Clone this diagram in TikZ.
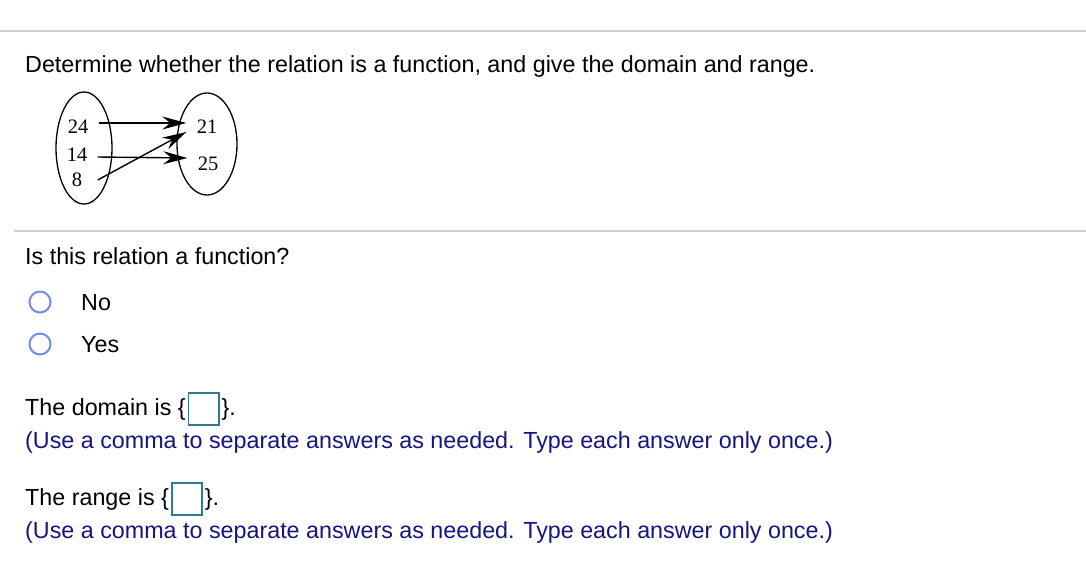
\documentclass[tikz,border=0pt]{standalone}
\usepackage{fontspec}
\setmainfont{Liberation Sans}
\newfontfamily\serifnum{Liberation Serif}
\usetikzlibrary{arrows.meta,shapes.geometric,positioning}

\definecolor{rulegray}{RGB}{204,206,222}
\definecolor{hintblue}{RGB}{20,20,130}
\definecolor{radioblue}{RGB}{112,140,230}
\definecolor{boxteal}{RGB}{48,120,150}

\begin{document}
\begin{tikzpicture}[x=1pt, y=-1pt, every node/.style={inner sep=0pt},
        txt/.style={anchor=base west, font=\fontsize{23.3}{27}\selectfont},
        hint/.style={txt, text=hintblue},
        num/.style={font=\serifnum\fontsize{20.5}{24}\selectfont, minimum width=41pt},
        setoval/.style={ellipse, draw, line width=1.3pt},
        maparrow/.style={-{Stealth[length=24pt, width=13pt, inset=8pt]}, line width=1.4pt},
        radio/.style={circle, draw=radioblue, line width=2pt, minimum size=21pt},
        ansbox/.style={draw=boxteal, line width=1.5pt, minimum width=30pt, minimum height=32pt}]
        \useasboundingbox (0,0) rectangle (1086,584);

        % Rules
        \draw[rulegray, line width=2pt] (0,31) -- (1086,31);
        \draw[rulegray, line width=2pt] (14,231) -- (1086,231);

        % Question
        \node[txt] (question) at (25,72) {Determine whether the relation is a function, and give the domain and range.};

        % The two sets
        \node[setoval, minimum width=56pt, minimum height=112pt] (dom) at (84,148) {};
        \node[setoval, minimum width=60pt, minimum height=102pt] (rng) at (207,144) {};

        \node[num] (l24) at (78,126.5) {24};
        \node[num] (l14) at (77,155) {14};
        \node[num] (l8) at (77,180) {8};
        \node[num] (r21) at (207,126.5) {21};
        \node[num] (r25) at (208,163.5) {25};

        % Mapping
        \draw[maparrow] ([yshift=3.5pt]l24.east) -- ([yshift=3.5pt]r21.west);
        \draw[maparrow] ([yshift=-2pt]l14.east) -- ([yshift=5.5pt]r25.west);
        \draw[maparrow] (l8.east) -- ([yshift=-5.5pt]r21.west);

        % Choices
        \node[txt] (ask) at (25,264) {Is this relation a function?};
        \node[radio] (optno) at (40,302) {};
        \node[txt] (lblno) at (81,310) {No};
        \node[radio] (optyes) at (40,344) {};
        \node[txt] (lblyes) at (81,352) {Yes};

        % Domain answer
        \node[txt] (domlbl) at (25,415) {The domain is \{};
        \node[ansbox, right=2pt of domlbl] (dombox) {};
        \node[txt] (domend) at ([xshift=2pt]dombox.east |- domlbl.base) {\}.};
        \node[hint] (domhint) at (25,448) {(Use a comma to separate answers as needed. Type each answer only once.)};

        % Range answer
        \node[txt] (rnglbl) at (25,505) {The range is \{};
        \node[ansbox, right=2pt of rnglbl] (rngbox) {};
        \node[txt] (rngend) at ([xshift=2pt]rngbox.east |- rnglbl.base) {\}.};
        \node[hint] (rnghint) at (25,538) {(Use a comma to separate answers as needed. Type each answer only once.)};
    \end{tikzpicture}
\end{document}
